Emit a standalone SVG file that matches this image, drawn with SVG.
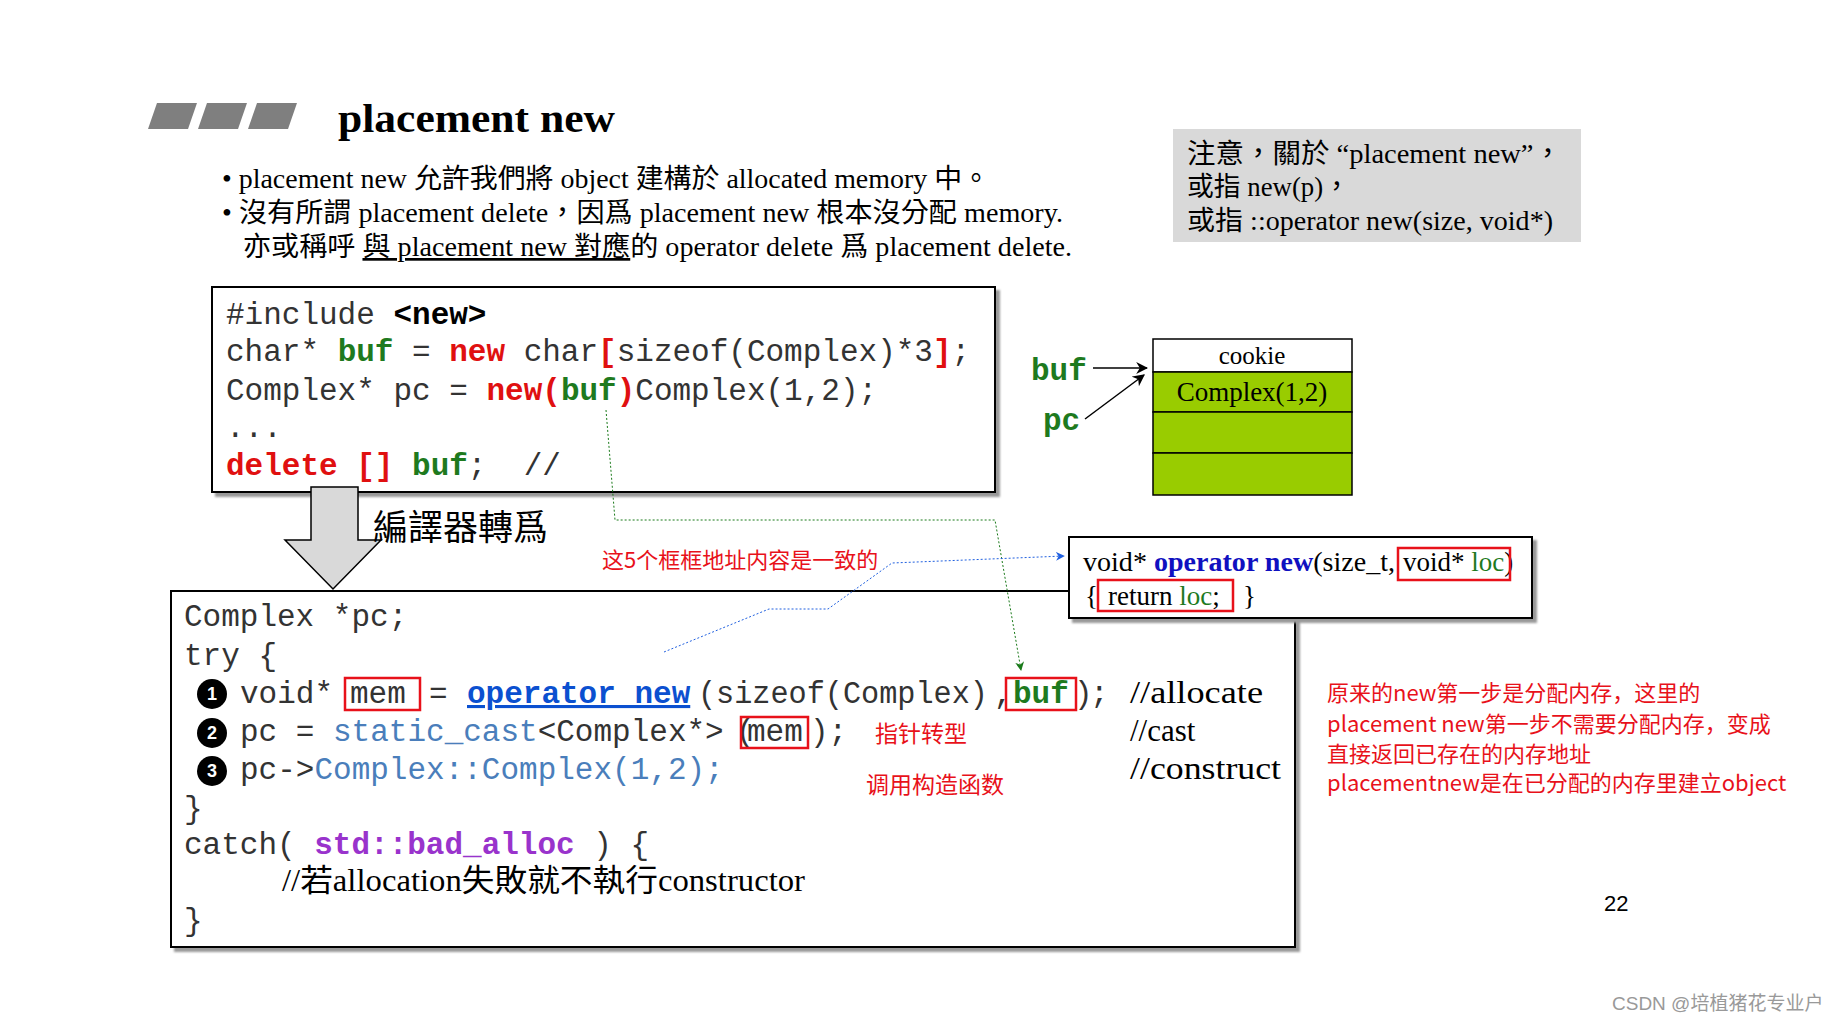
<svg xmlns="http://www.w3.org/2000/svg" width="1830" height="1018" viewBox="0 0 1830 1018">
<defs>
<style>
.serif{font-family:"Liberation Serif","Noto Sans CJK TC",serif;fill:#000}
.mono{font-family:"Liberation Mono","Noto Sans CJK TC",monospace;font-size:31px;fill:#333}
.red{fill:#e8111a}
.b{font-weight:bold}
.g{fill:#1e7a1e;font-weight:bold}
.r{fill:#e01010;font-weight:bold}
.note{font-family:"Noto Sans CJK SC","Noto Sans",sans-serif;fill:#f01818}
.box{fill:#fff;stroke:#000;stroke-width:2}
.rbox{fill:none;stroke:#e8111a;stroke-width:2.5}
</style>
<filter id="sh" x="-5%" y="-5%" width="110%" height="115%"><feDropShadow dx="4" dy="4" stdDeviation="1" flood-color="#999"/></filter>
<marker id="ab" viewBox="0 0 10 10" refX="9" refY="5" markerWidth="8" markerHeight="8" orient="auto"><path d="M0,0L10,5L0,10L3,5z" fill="#000"/></marker>
<marker id="ag" viewBox="0 0 10 10" refX="9" refY="5" markerWidth="9" markerHeight="9" orient="auto"><path d="M0,0L10,5L0,10L3,5z" fill="#1a7a1a"/></marker>
<marker id="abl" viewBox="0 0 10 10" refX="9" refY="5" markerWidth="9" markerHeight="9" orient="auto"><path d="M0,0L10,5L0,10L3,5z" fill="#2060e0"/></marker>
</defs>
<rect width="1830" height="1018" fill="#fff"/>
<g id="title">
<polygon points="157,103 197,103 188,129 148,129" fill="#7f7f7f"/>
<polygon points="207,103 247,103 238,129 198,129" fill="#7f7f7f"/>
<polygon points="257,103 297,103 288,129 248,129" fill="#7f7f7f"/>
<text x="338" y="132" class="serif b" font-size="40" textLength="277" lengthAdjust="spacingAndGlyphs">placement new</text>
</g>
<g id="bullets" class="serif" font-size="27">
<text x="222" y="188" textLength="768" lengthAdjust="spacingAndGlyphs">• placement new 允許我們將 object 建構於 allocated memory 中。</text>
<text x="222" y="222" textLength="841" lengthAdjust="spacingAndGlyphs">• 沒有所謂 placement delete，因爲 placement new 根本沒分配 memory.</text>
<text x="243" y="256" textLength="829" lengthAdjust="spacingAndGlyphs">亦或稱呼 <tspan text-decoration="underline">與 placement new 對應</tspan>的 operator delete 爲 placement delete.</text>
</g>
<g id="note">
<rect x="1173" y="129" width="408" height="113" fill="#d9d9d9"/>
<text class="serif" font-size="27" x="1187" y="163" textLength="375" lengthAdjust="spacingAndGlyphs">注意，關於 “placement new”，</text>
<text class="serif" font-size="27" x="1187" y="196" textLength="163" lengthAdjust="spacingAndGlyphs">或指 new(p)，</text>
<text class="serif" font-size="27" x="1187" y="230" textLength="366" lengthAdjust="spacingAndGlyphs">或指 ::operator new(size, void*)</text>
</g>
<g id="code1">
<rect x="212" y="287" width="783" height="205" class="box" filter="url(#sh)"/>
<text class="mono" xml:space="preserve"><tspan x="226" y="324">#include <tspan class="b" fill="#000">&lt;new&gt;</tspan></tspan><tspan x="226" y="361">char* <tspan class="g">buf</tspan> = <tspan class="r">new</tspan> char<tspan class="r">[</tspan>sizeof(Complex)*3<tspan class="r">]</tspan>;</tspan><tspan x="226" y="400">Complex* pc = <tspan class="r">new(</tspan><tspan class="g">buf</tspan><tspan class="r">)</tspan>Complex(1,2);</tspan><tspan x="226" y="437">...</tspan><tspan x="226" y="475"><tspan class="r">delete [] </tspan><tspan class="g">buf</tspan>;  //</tspan></text>
</g>
<g id="arrow">
<polygon points="311,487 358,487 358,540 381,540 333,589 285,540 311,540" fill="#d9d9d9" stroke="#000" stroke-width="1.5"/>
<text x="373" y="540" class="serif" font-size="35">編譯器轉爲</text>
</g>
<g id="memory">
<rect x="1153" y="339" width="199" height="33" fill="#fff" stroke="#000" stroke-width="1.5"/>
<rect x="1153" y="372" width="199" height="40" fill="#99cc00" stroke="#000" stroke-width="1.5"/>
<rect x="1153" y="412" width="199" height="41" fill="#99cc00" stroke="#000" stroke-width="1.5"/>
<rect x="1153" y="453" width="199" height="42" fill="#99cc00" stroke="#000" stroke-width="1.5"/>
<text x="1252" y="364" class="serif" font-size="25" text-anchor="middle">cookie</text>
<text x="1252" y="401" class="serif" font-size="27" text-anchor="middle">Complex(1,2)</text>
<text x="1031" y="380" class="mono g">buf</text>
<text x="1043" y="430" class="mono g">pc</text>
</g>
<g id="code2">
<rect x="171" y="591" width="1124" height="356" class="box" filter="url(#sh)"/>
<text class="mono" xml:space="preserve"><tspan x="184" y="626">Complex *pc;</tspan><tspan x="184" y="665">try {</tspan><tspan x="184" y="818">}</tspan><tspan x="184" y="854">catch( <tspan fill="#9933cc" font-weight="bold">std::bad_alloc</tspan> ) {</tspan><tspan x="184" y="930">}</tspan></text>
<text class="mono" y="703"><tspan x="240">void*</tspan><tspan x="350">mem</tspan><tspan x="429">=</tspan><tspan x="467" fill="#0b50d0" font-weight="bold" text-decoration="underline">operator new</tspan></text>
<text class="mono" x="698" y="703" textLength="290" lengthAdjust="spacingAndGlyphs">(sizeof(Complex)</text>
<text class="mono" y="703"><tspan x="994">,</tspan><tspan x="1013" class="g">buf</tspan><tspan x="1074">)</tspan><tspan x="1090">;</tspan></text>
<text class="mono" x="240" y="741" xml:space="preserve">pc = <tspan fill="#4a7ebb">static_cast</tspan>&lt;Complex*&gt;</text>
<text class="mono" y="741"><tspan x="736">(</tspan><tspan x="747">mem</tspan><tspan x="810">);</tspan></text>
<text class="mono" x="240" y="779">pc-&gt;<tspan fill="#4a7ebb">Complex::Complex(1,2);</tspan></text>
<text x="282" y="891" class="serif" font-size="31" textLength="523" lengthAdjust="spacingAndGlyphs">//若allocation失敗就不執行constructor</text>
<text class="serif" font-size="31" x="1130" y="703" textLength="133" lengthAdjust="spacingAndGlyphs">//allocate</text>
<text class="serif" font-size="31" x="1130" y="741">//cast</text>
<text class="serif" font-size="31" x="1130" y="779" textLength="151" lengthAdjust="spacingAndGlyphs">//construct</text>
<circle cx="212" cy="694" r="15"/><circle cx="212" cy="733" r="15"/><circle cx="212" cy="771" r="15"/>
<text font-family="Liberation Sans,sans-serif" font-size="18" font-weight="bold" fill="#fff" text-anchor="middle"><tspan x="212" y="700">1</tspan><tspan x="212" y="739">2</tspan><tspan x="212" y="777">3</tspan></text>
<rect x="345" y="678" width="75" height="32" class="rbox"/>
<rect x="1006" y="678" width="70" height="32" class="rbox"/>
<rect x="741" y="717" width="67" height="31" class="rbox"/>
</g>
<g id="opnew">
<rect x="1069" y="537" width="463" height="81" class="box" filter="url(#sh)"/>
<text class="serif" font-size="27" x="1083" y="571" textLength="312" lengthAdjust="spacingAndGlyphs">void* <tspan fill="#1010c0" font-weight="bold">operator new</tspan>(size_t,</text>
<text class="serif" font-size="27" x="1403" y="571">void* <tspan fill="#1e7a1e">loc</tspan>)</text>
<text class="serif" font-size="27" x="1085" y="605">{</text>
<text class="serif" font-size="27" x="1108" y="605">return <tspan fill="#1e7a1e">loc</tspan>;</text>
<text class="serif" font-size="27" x="1243" y="605">}</text>
<rect x="1398" y="548" width="112" height="32" class="rbox"/>
<rect x="1098" y="580" width="135" height="31" class="rbox"/>
</g>
<g id="connectors" fill="none">
<line x1="1093" y1="368" x2="1147" y2="368" stroke="#000" stroke-width="1.5" marker-end="url(#ab)"/>
<line x1="1085" y1="419" x2="1144" y2="375" stroke="#000" stroke-width="1.5" marker-end="url(#ab)"/>
<polyline points="606,410 615,520 995,520 1021,670" stroke="#1a7a1a" stroke-width="1" stroke-dasharray="2,2" marker-end="url(#ag)"/>
<polyline points="664,652 769,609 828,609 892,563 1064,556" stroke="#2060e0" stroke-width="1" stroke-dasharray="2,2" marker-end="url(#abl)"/>
</g>
<g id="notes" class="note">
<text x="602" y="568" font-size="22" class="red">这5个框框地址内容是一致的</text>
<text x="875" y="742" font-size="23" class="red">指针转型</text>
<text x="866" y="793" font-size="23" class="red">调用构造函数</text>
<text font-size="22" class="red"><tspan x="1327" y="701">原来的new第一步是分配内存，这里的</tspan><tspan x="1327" y="732">placement new第一步不需要分配内存，变成</tspan><tspan x="1327" y="762">直接返回已存在的内存地址</tspan><tspan x="1327" y="791">placementnew是在已分配的内存里建立object</tspan></text>
</g>
<text x="1604" y="911" font-family="Liberation Sans,sans-serif" font-size="22">22</text>
<text x="1612" y="1010" font-family="Liberation Sans,Noto Sans CJK SC,sans-serif" font-size="19" fill="#999">CSDN @培植猪花专业户</text>
</svg>
